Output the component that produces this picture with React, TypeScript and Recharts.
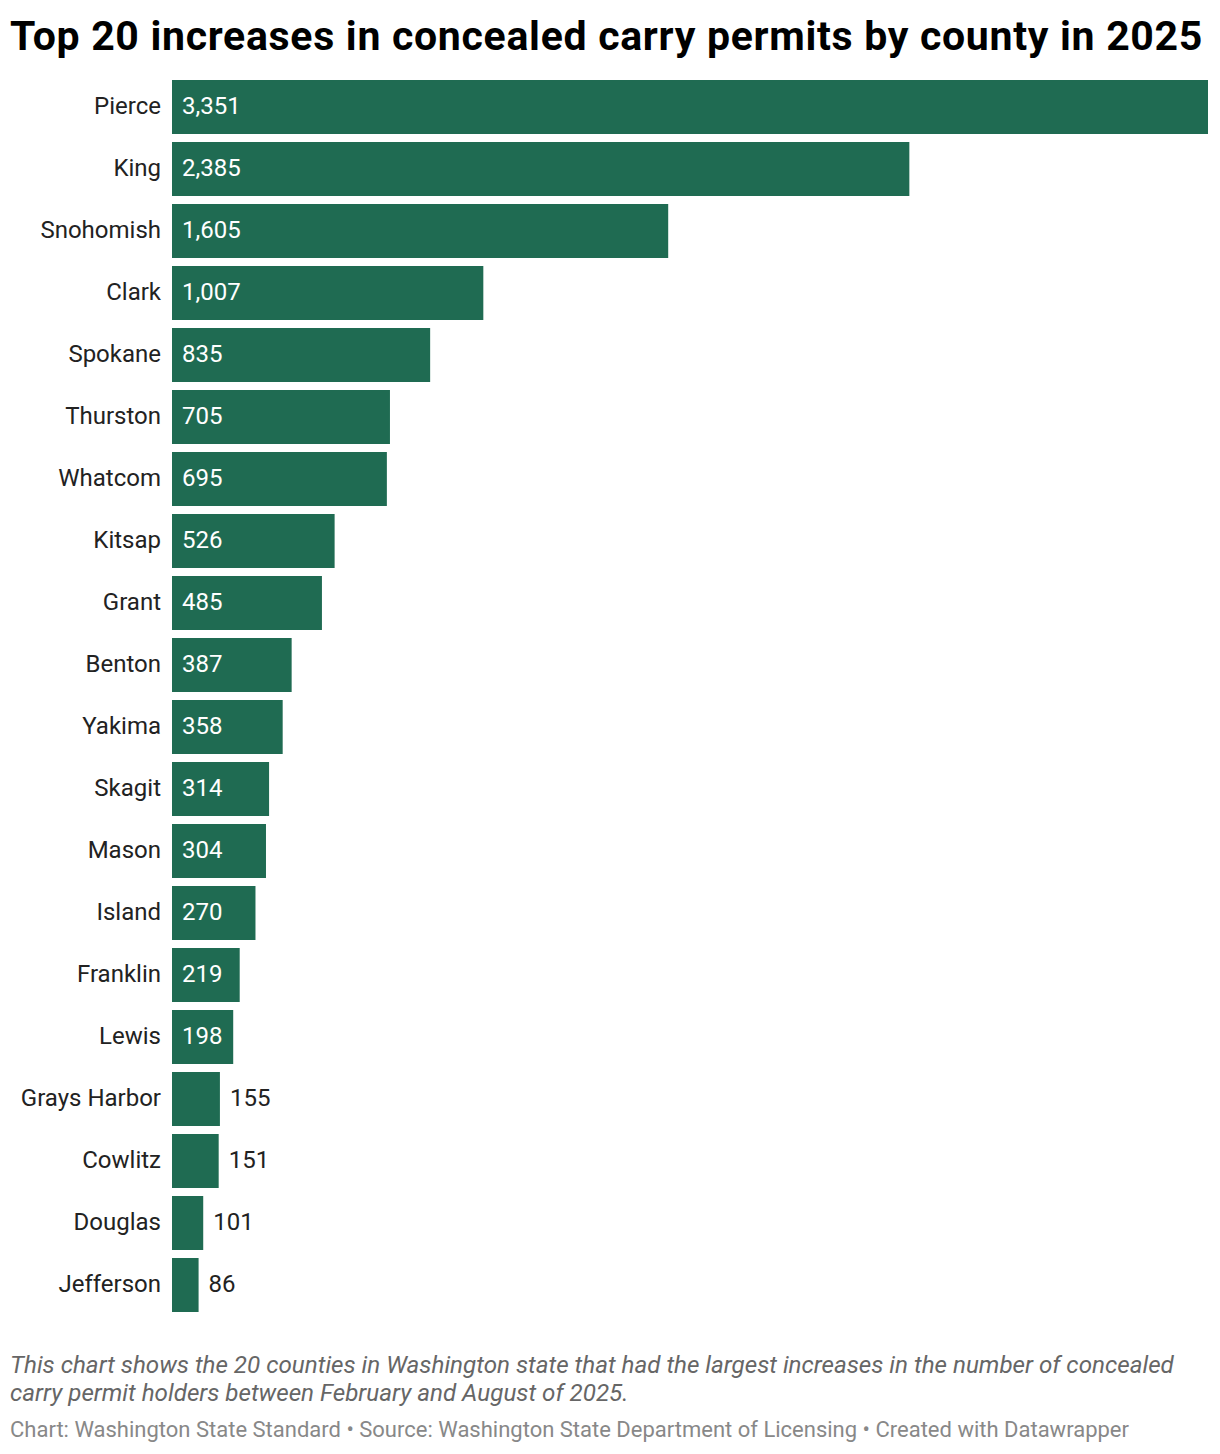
import { BarChart, Bar, XAxis, YAxis, LabelList } from "recharts";

const counties = [
  "Pierce", "King", "Snohomish", "Clark", "Spokane", "Thurston", "Whatcom", "Kitsap",
  "Grant", "Benton", "Yakima", "Skagit", "Mason", "Island", "Franklin", "Lewis",
  "Grays Harbor", "Cowlitz", "Douglas", "Jefferson",
];
const increases = [
  3351, 2385, 1605, 1007, 835, 705, 695, 526, 485, 387, 358, 314, 304, 270, 219, 198,
  155, 151, 101, 86,
];

const data = counties.map((county, i) => ({ county, value: increases[i] }));

const FONT = "Roboto, 'Noto Sans', sans-serif";
const GREEN = "#1f6b52";

function ValueLabel(props: any) {
  const { x, y, width, height, value } = props;
  const inside = width > 55;
  return (
    <text
      x={inside ? x + 10 : x + width + 10}
      y={y + height / 2}
      dy="0.3em"
      fill={inside ? "#ffffff" : "#222222"}
      fontSize={24}
      fontFamily={FONT}
    >
      {Number(value).toLocaleString("en-US")}
    </text>
  );
}

export default function App() {
  return (
    <div style={{ position: "absolute", left: 0, top: 0, width: 1220, height: 1454, background: "#fff", fontFamily: FONT }}>
      <div
        style={{
          position: "absolute",
          left: 10,
          top: 12,
          fontSize: 41,
          letterSpacing: 0.7,
          fontWeight: 700,
          color: "#000",
          whiteSpace: "nowrap",
          lineHeight: "48px",
        }}
      >
        Top 20 increases in concealed carry permits by county in 2025
      </div>
      <div style={{ position: "absolute", left: 0, top: 0 }}>
        <BarChart
          width={1220}
          height={1320}
          data={data}
          layout="vertical"
          barCategoryGap={4}
          margin={{ top: 76, right: 12, bottom: 4, left: 0 }}
        >
          <XAxis type="number" domain={[0, 3351]} hide />
          <YAxis
            type="category"
            dataKey="county"
            width={172}
            axisLine={false}
            tickLine={false}
            tickSize={0}
            tickMargin={11}
            interval={0}
            tick={{ fontSize: 24, fill: "#222222", fontFamily: FONT, dy: -2 }}
          />
          <Bar dataKey="value" fill={GREEN} barSize={54} isAnimationActive={false}>
            <LabelList dataKey="value" content={ValueLabel} />
          </Bar>
        </BarChart>
      </div>
      <div
        style={{
          position: "absolute",
          left: 10,
          top: 1351,
          width: 1210,
          fontSize: 24.2,
          fontStyle: "italic",
          color: "#666666",
          lineHeight: "28px",
          whiteSpace: "nowrap",
        }}
      >
        This chart shows the 20 counties in Washington state that had the largest increases in the number of concealed
        <br />
        carry permit holders between February and August of 2025.
      </div>
      <div
        style={{
          position: "absolute",
          left: 10,
          top: 1417,
          fontSize: 22,
          color: "#888888",
          whiteSpace: "nowrap",
        }}
      >
        Chart: Washington State Standard • Source: Washington State Department of Licensing • Created with Datawrapper
      </div>
    </div>
  );
}
